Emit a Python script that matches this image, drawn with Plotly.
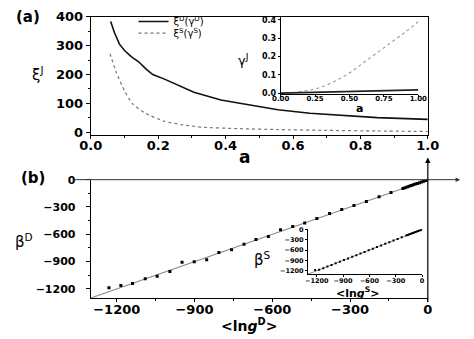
import plotly.graph_objects as go

# ---- panel (a): correlation lengths versus a ----
a_xiD = [0.059, 0.07, 0.085, 0.10, 0.12, 0.142, 0.165, 0.184, 0.217, 0.25, 0.306, 0.386,
         0.442, 0.555, 0.65, 0.743, 0.85, 1.0]
xi_D = [383, 345, 305, 283, 262, 244, 218, 200, 185, 168, 139, 112, 100, 78, 66, 58, 51, 45]

a_xiS = [0.057, 0.076, 0.10, 0.123, 0.161, 0.217, 0.273, 0.33, 0.44, 0.55, 0.70, 0.85, 1.0]
xi_S = [272, 206, 144, 100, 67, 39, 26, 18, 13, 10, 7, 5, 3]

# inset of (a): gamma^J versus a
a_gam = [0.0, 0.1, 0.2, 0.3, 0.4, 0.5, 0.6, 0.7, 0.8, 0.9, 1.0]
gamma_S = [0.0, 0.004, 0.015, 0.035, 0.068, 0.11, 0.165, 0.22, 0.275, 0.33, 0.39]
gamma_D = [0.0, 0.002, 0.004, 0.006, 0.008, 0.009, 0.011, 0.013, 0.015, 0.016, 0.018]

# ---- panel (b): beta^D versus <ln g^D> ----
lng_D = [-1230, -1184, -1139, -1090, -1044, -995, -948, -901, -853, -806, -757, -709,
         -663, -615, -568, -521, -475, -428, -379, -332, -285, -237, -188, -142, -96,
         -88, -80, -72, -64, -56, -48, -40, -32, -24, -16, -8, -2]
beta_D = [-1186, -1162, -1141, -1088, -1060, -1009, -907, -903, -879, -801, -770, -709,
          -656, -624, -550, -515, -476, -426, -373, -328, -285, -240, -187, -140, -98,
          -89, -81, -73, -65, -57, -49, -41, -33, -25, -17, -9, -3]

# inset of (b): beta^S versus <ln g^S>
lng_S = [-1218, -1172, -1125, -1078, -1031, -984, -937, -890, -843, -796, -749, -702,
         -655, -608, -561, -514, -467, -420, -373, -326, -279, -232,
         -180, -165, -150, -135, -120, -105, -90, -75, -60, -45, -30, -15, -3]
beta_S = [-1175, -1170, -1128, -1076, -1033, -982, -939, -888, -845, -795, -751, -700,
          -657, -606, -563, -512, -469, -418, -375, -324, -281, -230,
          -181, -166, -151, -136, -121, -106, -91, -76, -61, -46, -31, -16, -4]

# reference diagonal beta = <ln g>
diag = [-1300, 0]

W, H = 474, 339


def px(x):
    return x / W


def py(y):
    return 1 - y / H


fig = go.Figure()

fig.add_trace(go.Scatter(x=a_xiD, y=xi_D, mode="lines", name="ξ<sup>D</sup>(γ<sup>D</sup>)",
                         line=dict(color="#111111", width=1.6), legend="legend",
                         xaxis="x", yaxis="y"))
fig.add_trace(go.Scatter(x=a_xiS, y=xi_S, mode="lines", name="ξ<sup>S</sup>(γ<sup>S</sup>)",
                         line=dict(color="#777777", width=1.2, dash="dot", shape="spline", smoothing=0.6),
                         legend="legend2", xaxis="x", yaxis="y"))

fig.add_trace(go.Scatter(x=a_gam, y=gamma_S, mode="lines", showlegend=False,
                         line=dict(color="#999999", width=1.1, dash="dot", shape="spline"),
                         xaxis="x2", yaxis="y2"))
fig.add_trace(go.Scatter(x=a_gam, y=gamma_D, mode="lines", showlegend=False,
                         line=dict(color="#222222", width=1.8),
                         xaxis="x2", yaxis="y2"))

fig.add_trace(go.Scatter(x=diag, y=diag, mode="lines", showlegend=False,
                         line=dict(color="#8a8a8a", width=1.1), xaxis="x3", yaxis="y3"))
fig.add_trace(go.Scatter(x=lng_D, y=beta_D, mode="markers", showlegend=False,
                         marker=dict(symbol="square", size=3, color="#000000"),
                         xaxis="x3", yaxis="y3"))

fig.add_trace(go.Scatter(x=diag, y=diag, mode="lines", showlegend=False,
                         line=dict(color="#8a8a8a", width=1), xaxis="x4", yaxis="y4"))
fig.add_trace(go.Scatter(x=lng_S, y=beta_S, mode="markers", showlegend=False,
                         marker=dict(symbol="square", size=2, color="#000000"),
                         xaxis="x4", yaxis="y4"))


def tfont(size):
    return dict(family="DejaVu Sans", size=size, color="#000000", weight="bold")


axis_common = dict(showgrid=False, zeroline=False, showline=True, linecolor="#000000",
                   ticks="outside", tickcolor="#000000")

legend_style = dict(xanchor="left", yanchor="middle", bgcolor="rgba(0,0,0,0)",
                    font=dict(family="DejaVu Sans", size=10, color="#000000"),
                    itemwidth=30, borderwidth=0)

fig.update_layout(
    width=W, height=H, margin=dict(l=0, r=0, t=0, b=0),
    paper_bgcolor="white", plot_bgcolor="rgba(0,0,0,0)",
    showlegend=True,
    legend=dict(legend_style, x=px(128), y=py(15)),
    legend2=dict(legend_style, x=px(128), y=py(27)),
    xaxis=dict(axis_common, domain=[px(83), px(438)], range=[0, 1.0], dtick=0.2, tick0=0,
               tickformat=".1f", ticklen=3, linewidth=1.2, mirror=True, tickfont=tfont(13),
               ticklabelstandoff=-5,
               minor=dict(dtick=0.1, ticks="outside", ticklen=2, tickcolor="#000000"),
               anchor="y"),
    yaxis=dict(axis_common, domain=[py(133), py(10)], range=[-10, 400], dtick=100,
               ticklen=4, linewidth=1.2, mirror=True, tickfont=tfont(13),
               minor=dict(dtick=50, ticks="outside", ticklen=2, tickcolor="#000000"),
               anchor="x"),
    xaxis2=dict(axis_common, domain=[px(283), px(428)], range=[0, 1.0], dtick=0.25, tick0=0,
                tickformat=".2f", ticklen=2, linewidth=1, tickfont=tfont(7),
                ticklabelstandoff=-5, anchor="y2"),
    yaxis2=dict(axis_common, domain=[py(90.7), py(10)], range=[-0.007, 0.417], dtick=0.1,
                tickformat=".1f", ticklen=2, linewidth=1, tickfont=tfont(8), anchor="x2"),
    xaxis3=dict(axis_common, domain=[px(83), px(438)], range=[-1300, 0], dtick=300, tick0=0,
                ticklen=3, linewidth=1.2, tickfont=tfont(13), ticklabelstandoff=-4,
                minor=dict(dtick=150, ticks="outside", ticklen=2, tickcolor="#000000"),
                anchor="y3"),
    yaxis3=dict(axis_common, domain=[py(301.7), py(179)], range=[-1300, 0], dtick=300, tick0=0,
                ticklen=4, linewidth=1.2, tickfont=tfont(11), ticklabelstandoff=8,
                minor=dict(dtick=150, ticks="outside", ticklen=2, tickcolor="#000000"),
                anchor="x3"),
    xaxis4=dict(axis_common, domain=[px(311.7), px(432)], range=[-1300, 0], dtick=300, tick0=0,
                ticklen=2, linewidth=1, tickfont=tfont(6.5), ticklabelstandoff=-2, anchor="y4"),
    yaxis4=dict(axis_common, domain=[py(277), py(230.5)], range=[-1300, 0], dtick=300, tick0=0,
                ticklen=2, linewidth=1, tickfont=tfont(6.5), anchor="x4"),
)

# axis arrows of panel (b): beta^D = 0 and <ln g^D> = 0
fig.add_annotation(x=px(472), y=py(179), ax=83 - 472, ay=0, xref="paper", yref="paper",
                   axref="pixel", ayref="pixel", text="", showarrow=True, arrowhead=2,
                   arrowsize=0.9, arrowwidth=1, arrowcolor="#333333")
fig.add_annotation(x=px(438), y=py(156), ax=0, ay=302 - 156, xref="paper", yref="paper",
                   axref="pixel", ayref="pixel", text="", showarrow=True, arrowhead=2,
                   arrowsize=0.9, arrowwidth=1.2, arrowcolor="#000000")


def label(text, x, y, size, bold=False):
    fig.add_annotation(x=px(x), y=py(y), xref="paper", yref="paper", text=text,
                       showarrow=False, xanchor="center", yanchor="middle",
                       font=dict(family="DejaVu Sans", size=size, color="#000000",
                                 weight="bold" if bold else "normal"))


label("(a)", 17, 10, 15, bold=True)
label("(b)", 22, 177, 15, bold=True)
label("ξ<sup>J</sup>", 27, 69, 15)
label("a", 245, 155, 17, bold=True)
label("γ<sup>J</sup>", 243, 55, 13)
label("a", 366, 105, 11, bold=True)
label("β<sup>D</sup>", 13, 243, 15)
label("&lt;ln<i>g</i><sup>D</sup>&gt;", 250, 330, 14, bold=True)
label("β<sup>S</sup>", 264, 261, 15)
label("&lt;ln<i>g</i><sup>S</sup>&gt;", 364, 296, 11, bold=True)

fig.write_html("out.html")
